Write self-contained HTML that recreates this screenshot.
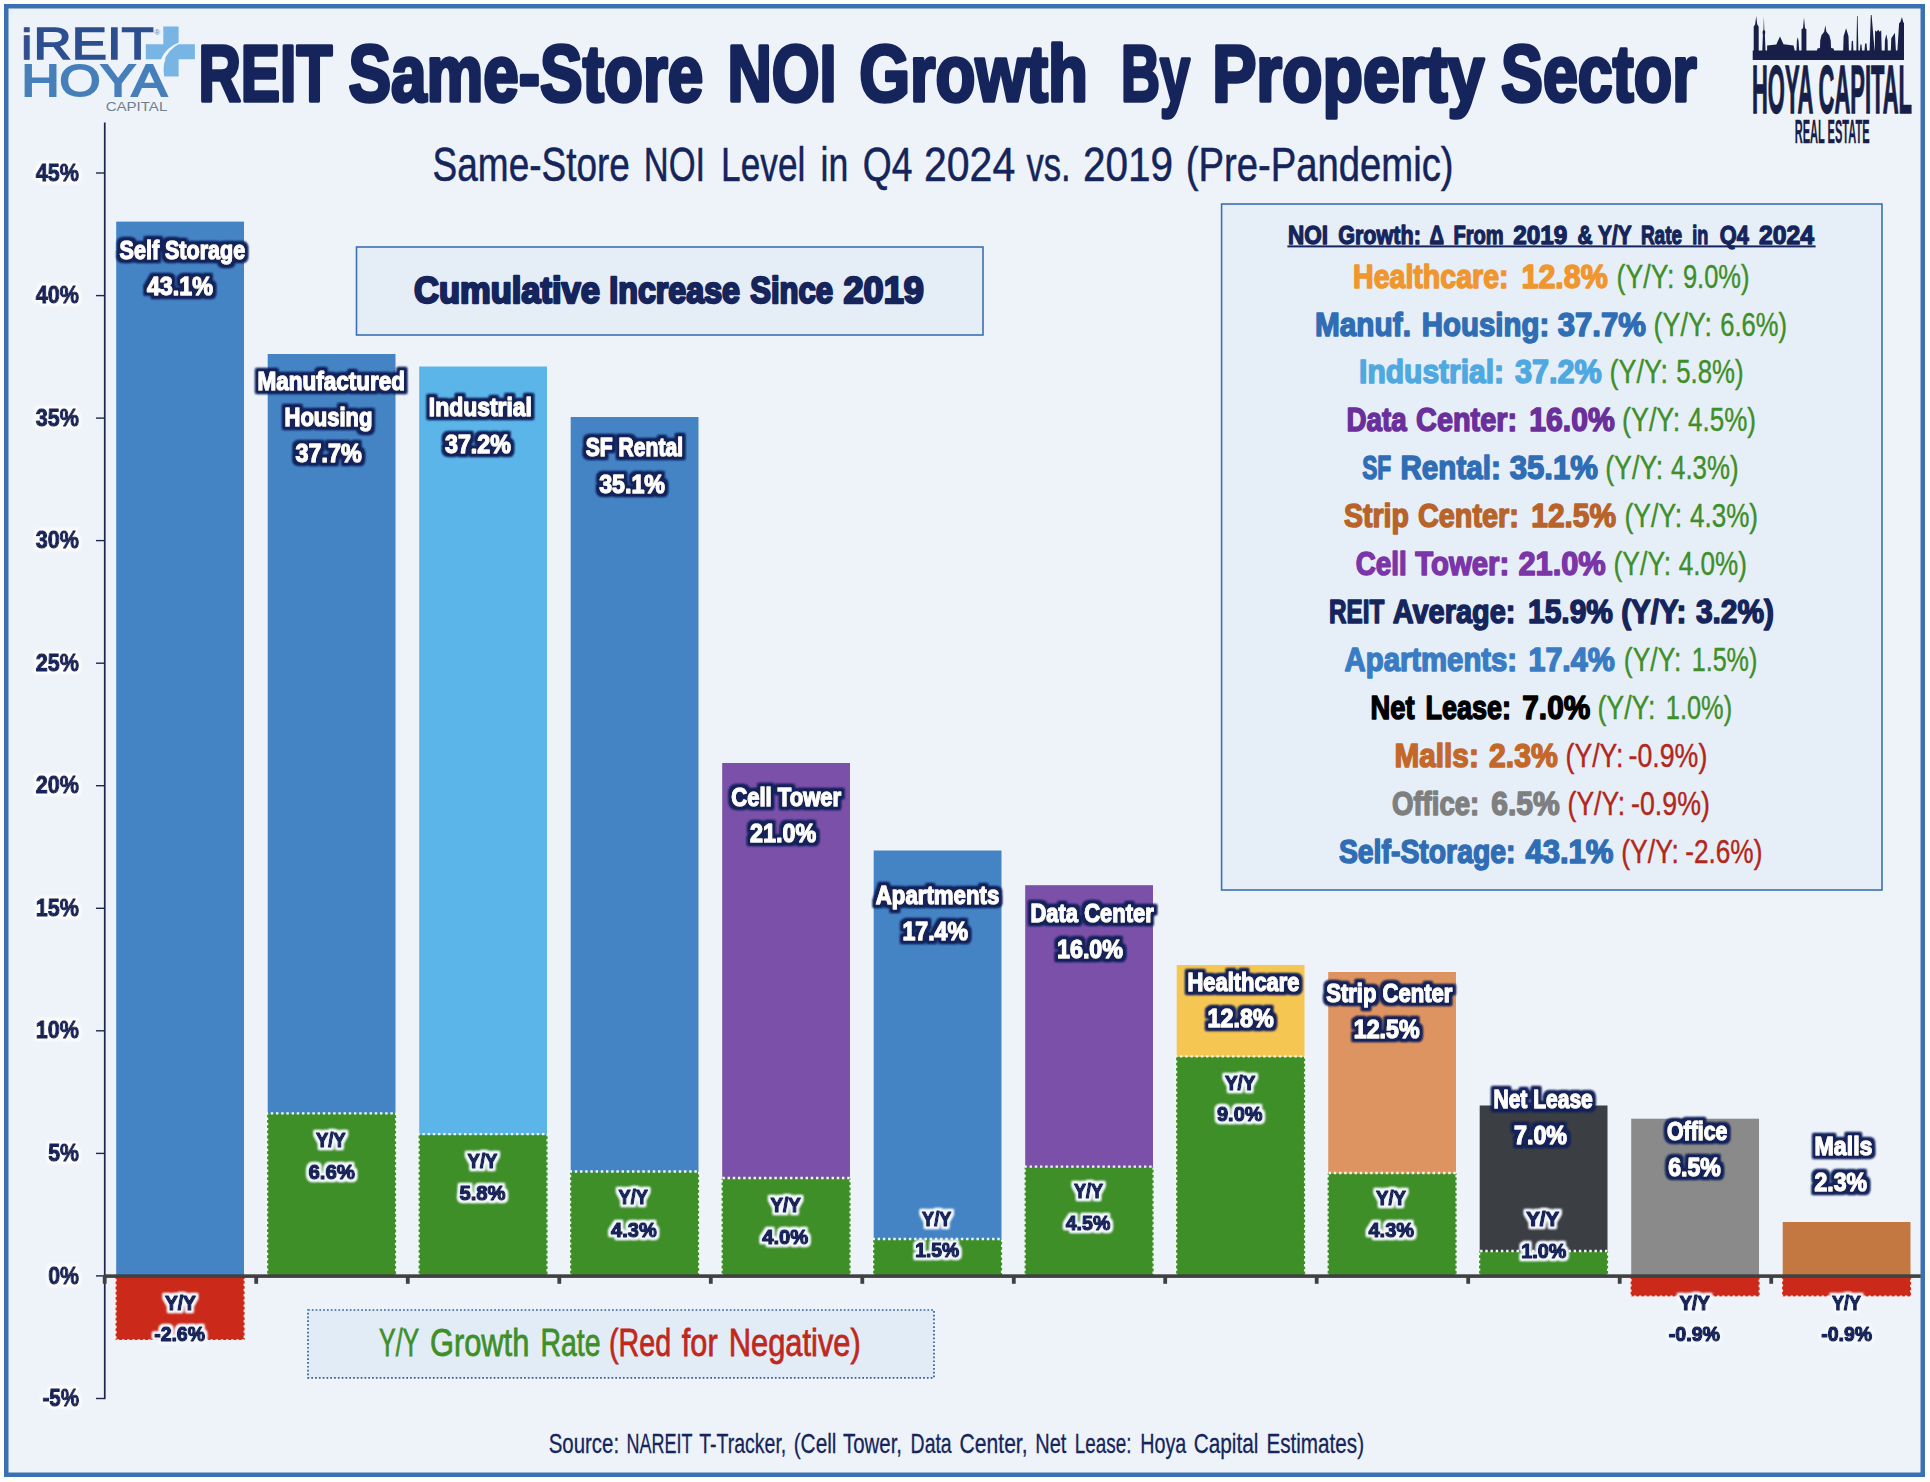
<!DOCTYPE html>
<html lang="en"><head><meta charset="utf-8"><title>REIT Same-Store NOI Growth By Property Sector</title>
<style>
html,body{margin:0;padding:0;background:#fffefa;}
body{width:1930px;height:1482px;overflow:hidden;}
svg{display:block;font-family:"Liberation Sans",sans-serif;}
</style></head><body>
<svg width="1930" height="1482" viewBox="0 0 1930 1482">
<defs>
<filter id="gn" x="-10%" y="-30%" width="120%" height="160%">
<feMorphology in="SourceAlpha" operator="dilate" radius="2.9" result="d"/>
<feGaussianBlur in="d" stdDeviation="1.3" result="b"/>
<feFlood flood-color="#13235a"/><feComposite in2="b" operator="in" result="g"/>
<feMerge><feMergeNode in="g"/><feMergeNode in="g"/><feMergeNode in="SourceGraphic"/></feMerge>
</filter>
<filter id="gw" x="-15%" y="-30%" width="130%" height="160%">
<feMorphology in="SourceAlpha" operator="dilate" radius="2.0" result="d"/>
<feGaussianBlur in="d" stdDeviation="0.8" result="b"/>
<feFlood flood-color="#f4f8ff"/><feComposite in2="b" operator="in" result="g"/>
<feMerge><feMergeNode in="g"/><feMergeNode in="g"/><feMergeNode in="SourceGraphic"/></feMerge>
</filter>
<filter id="gs" x="-15%" y="-30%" width="130%" height="160%">
<feMorphology in="SourceAlpha" operator="dilate" radius="1.5" result="d"/>
<feGaussianBlur in="d" stdDeviation="1.5" result="b"/>
<feFlood flood-color="#ffffff"/><feComposite in2="b" operator="in" result="g"/>
<feMerge><feMergeNode in="g"/><feMergeNode in="SourceGraphic"/></feMerge>
</filter>
</defs>

<rect x="0" y="0" width="1930" height="1482" fill="#fffefa"/>
<rect x="6.25" y="6.25" width="1916.5" height="1468.5" fill="#eef3f9" stroke="#3b70b2" stroke-width="4.5"/>
<rect x="116.2" y="221.6" width="127.8" height="1055.4" fill="#4484c4"/>
<rect x="115.6" y="1277" width="129.0" height="63.0" fill="#cb2a1b"/>
<path d="M115.6,1279 V1340.2 H244.6 V1279" fill="none" stroke="#fbeeea" stroke-width="2.0" stroke-dasharray="2.4 2.8"/>
<rect x="267.7" y="354.0" width="127.8" height="923.0" fill="#4484c4"/>
<rect x="267.1" y="1113.9" width="129.0" height="163.1" fill="#3f8f29"/>
<path d="M267.1,1276 V1113.3 H396.1 V1276" fill="none" stroke="#eefcef" stroke-width="2.3" stroke-dasharray="2.4 2.8"/>
<rect x="419.2" y="366.5" width="127.8" height="910.5" fill="#5bb5e8"/>
<rect x="418.6" y="1134.8" width="129.0" height="142.2" fill="#3f8f29"/>
<path d="M418.6,1276 V1134.2 H547.6 V1276" fill="none" stroke="#eefcef" stroke-width="2.3" stroke-dasharray="2.4 2.8"/>
<rect x="570.7" y="417.0" width="127.8" height="860.0" fill="#4484c4"/>
<rect x="570.1" y="1172.1" width="129.0" height="104.9" fill="#3f8f29"/>
<path d="M570.1,1276 V1171.5 H699.1 V1276" fill="none" stroke="#eefcef" stroke-width="2.3" stroke-dasharray="2.4 2.8"/>
<rect x="722.2" y="763.0" width="127.8" height="514.0" fill="#7b50a8"/>
<rect x="721.6" y="1178.6" width="129.0" height="98.4" fill="#3f8f29"/>
<path d="M721.6,1276 V1178.0 H850.6 V1276" fill="none" stroke="#eefcef" stroke-width="2.3" stroke-dasharray="2.4 2.8"/>
<rect x="873.7" y="850.5" width="127.8" height="426.5" fill="#4484c4"/>
<rect x="873.1" y="1239.6" width="129.0" height="37.4" fill="#3f8f29"/>
<path d="M873.1,1276 V1239.0 H1002.1 V1276" fill="none" stroke="#eefcef" stroke-width="2.3" stroke-dasharray="2.4 2.8"/>
<rect x="1025.2" y="885.2" width="127.8" height="391.8" fill="#7b50a8"/>
<rect x="1024.6" y="1167.2" width="129.0" height="109.8" fill="#3f8f29"/>
<path d="M1024.6,1276 V1166.6 H1153.6 V1276" fill="none" stroke="#eefcef" stroke-width="2.3" stroke-dasharray="2.4 2.8"/>
<rect x="1176.7" y="965.0" width="127.8" height="312.0" fill="#f6c653"/>
<rect x="1176.1" y="1056.9" width="129.0" height="220.1" fill="#3f8f29"/>
<path d="M1176.1,1276 V1056.3 H1305.1 V1276" fill="none" stroke="#eefcef" stroke-width="2.3" stroke-dasharray="2.4 2.8"/>
<rect x="1328.2" y="972.0" width="127.8" height="305.0" fill="#de9460"/>
<rect x="1327.6" y="1173.6" width="129.0" height="103.4" fill="#3f8f29"/>
<path d="M1327.6,1276 V1173.0 H1456.6 V1276" fill="none" stroke="#eefcef" stroke-width="2.3" stroke-dasharray="2.4 2.8"/>
<rect x="1479.7" y="1105.5" width="127.8" height="171.5" fill="#3b3e43"/>
<rect x="1479.1" y="1251.6" width="129.0" height="25.4" fill="#3f8f29"/>
<path d="M1479.1,1276 V1251.0 H1608.1 V1276" fill="none" stroke="#eefcef" stroke-width="2.3" stroke-dasharray="2.4 2.8"/>
<rect x="1631.2" y="1118.7" width="127.8" height="158.3" fill="#8a8a8a"/>
<rect x="1630.6" y="1277" width="129.0" height="19.4" fill="#cb2a1b"/>
<path d="M1630.6,1279 V1296.6 H1759.6 V1279" fill="none" stroke="#fbeeea" stroke-width="2.0" stroke-dasharray="2.4 2.8"/>
<rect x="1782.7" y="1222.0" width="127.8" height="55.0" fill="#c27840"/>
<rect x="1782.1" y="1277" width="129.0" height="19.4" fill="#cb2a1b"/>
<path d="M1782.1,1279 V1296.6 H1911.1 V1279" fill="none" stroke="#fbeeea" stroke-width="2.0" stroke-dasharray="2.4 2.8"/>
<rect x="103.9" y="122.5" width="1.7" height="1276.7" fill="#1a244e"/>
<rect x="96" y="172.3" width="8.5" height="1.4" fill="#1c2752"/>
<rect x="96" y="294.9" width="8.5" height="1.4" fill="#1c2752"/>
<rect x="96" y="417.4" width="8.5" height="1.4" fill="#1c2752"/>
<rect x="96" y="539.9" width="8.5" height="1.4" fill="#1c2752"/>
<rect x="96" y="662.5" width="8.5" height="1.4" fill="#1c2752"/>
<rect x="96" y="785.0" width="8.5" height="1.4" fill="#1c2752"/>
<rect x="96" y="907.6" width="8.5" height="1.4" fill="#1c2752"/>
<rect x="96" y="1030.1" width="8.5" height="1.4" fill="#1c2752"/>
<rect x="96" y="1152.7" width="8.5" height="1.4" fill="#1c2752"/>
<rect x="96" y="1275.2" width="8.5" height="1.4" fill="#1c2752"/>
<rect x="96" y="1397.8" width="8.5" height="1.4" fill="#1c2752"/>
<rect x="103.75" y="1274.3" width="1817" height="3.6" fill="#404040"/>
<rect x="102.8" y="1276" width="3.8" height="7.8" fill="#404040"/>
<rect x="254.3" y="1276" width="3.8" height="7.8" fill="#404040"/>
<rect x="405.9" y="1276" width="3.8" height="7.8" fill="#404040"/>
<rect x="557.4" y="1276" width="3.8" height="7.8" fill="#404040"/>
<rect x="708.9" y="1276" width="3.8" height="7.8" fill="#404040"/>
<rect x="860.4" y="1276" width="3.8" height="7.8" fill="#404040"/>
<rect x="1011.9" y="1276" width="3.8" height="7.8" fill="#404040"/>
<rect x="1163.3" y="1276" width="3.8" height="7.8" fill="#404040"/>
<rect x="1314.8" y="1276" width="3.8" height="7.8" fill="#404040"/>
<rect x="1466.3" y="1276" width="3.8" height="7.8" fill="#404040"/>
<rect x="1617.8" y="1276" width="3.8" height="7.8" fill="#404040"/>
<rect x="1769.3" y="1276" width="3.8" height="7.8" fill="#404040"/>
<g filter="url(#gs)" stroke="#15255c" stroke-width="1.3" stroke-linejoin="round">
<text x="79.0" y="180.6" font-size="24.5" font-weight="bold" fill="#15255c" text-anchor="end" textLength="43.2" lengthAdjust="spacingAndGlyphs">45%</text>
<text x="79.0" y="303.2" font-size="24.5" font-weight="bold" fill="#15255c" text-anchor="end" textLength="43.2" lengthAdjust="spacingAndGlyphs">40%</text>
<text x="79.0" y="425.7" font-size="24.5" font-weight="bold" fill="#15255c" text-anchor="end" textLength="43.2" lengthAdjust="spacingAndGlyphs">35%</text>
<text x="79.0" y="548.2" font-size="24.5" font-weight="bold" fill="#15255c" text-anchor="end" textLength="43.2" lengthAdjust="spacingAndGlyphs">30%</text>
<text x="79.0" y="670.8" font-size="24.5" font-weight="bold" fill="#15255c" text-anchor="end" textLength="43.2" lengthAdjust="spacingAndGlyphs">25%</text>
<text x="79.0" y="793.4" font-size="24.5" font-weight="bold" fill="#15255c" text-anchor="end" textLength="43.2" lengthAdjust="spacingAndGlyphs">20%</text>
<text x="79.0" y="915.9" font-size="24.5" font-weight="bold" fill="#15255c" text-anchor="end" textLength="43.2" lengthAdjust="spacingAndGlyphs">15%</text>
<text x="79.0" y="1038.4" font-size="24.5" font-weight="bold" fill="#15255c" text-anchor="end" textLength="43.2" lengthAdjust="spacingAndGlyphs">10%</text>
<text x="79.0" y="1161.0" font-size="24.5" font-weight="bold" fill="#15255c" text-anchor="end" textLength="30.8" lengthAdjust="spacingAndGlyphs">5%</text>
<text x="79.0" y="1283.5" font-size="24.5" font-weight="bold" fill="#15255c" text-anchor="end" textLength="30.8" lengthAdjust="spacingAndGlyphs">0%</text>
<text x="79.0" y="1406.1" font-size="24.5" font-weight="bold" fill="#15255c" text-anchor="end" textLength="36.6" lengthAdjust="spacingAndGlyphs">-5%</text>
</g>
<g filter="url(#gn)" stroke="#ffffff" stroke-width="1.0" stroke-linejoin="round">
<text x="119.6" y="258.8" font-size="26" font-weight="bold" fill="#ffffff" text-anchor="start" textLength="125.5" lengthAdjust="spacingAndGlyphs">Self Storage</text>
<text x="146.9" y="294.5" font-size="26" font-weight="bold" fill="#ffffff" text-anchor="start" textLength="66.1" lengthAdjust="spacingAndGlyphs">43.1%</text>
<text x="257.5" y="390.0" font-size="26" font-weight="bold" fill="#ffffff" text-anchor="start" textLength="147.5" lengthAdjust="spacingAndGlyphs">Manufactured</text>
<text x="284.5" y="426.2" font-size="26" font-weight="bold" fill="#ffffff" text-anchor="start" textLength="88.0" lengthAdjust="spacingAndGlyphs">Housing</text>
<text x="295.5" y="462.0" font-size="26" font-weight="bold" fill="#ffffff" text-anchor="start" textLength="66.2" lengthAdjust="spacingAndGlyphs">37.7%</text>
<text x="428.8" y="416.2" font-size="26" font-weight="bold" fill="#ffffff" text-anchor="start" textLength="103.2" lengthAdjust="spacingAndGlyphs">Industrial</text>
<text x="445.0" y="453.0" font-size="26" font-weight="bold" fill="#ffffff" text-anchor="start" textLength="65.8" lengthAdjust="spacingAndGlyphs">37.2%</text>
<text x="585.8" y="456.2" font-size="26" font-weight="bold" fill="#ffffff" text-anchor="start" textLength="97.2" lengthAdjust="spacingAndGlyphs">SF Rental</text>
<text x="599.2" y="492.5" font-size="26" font-weight="bold" fill="#ffffff" text-anchor="start" textLength="65.8" lengthAdjust="spacingAndGlyphs">35.1%</text>
<text x="731.2" y="806.2" font-size="26" font-weight="bold" fill="#ffffff" text-anchor="start" textLength="110.0" lengthAdjust="spacingAndGlyphs">Cell Tower</text>
<text x="750.0" y="842.0" font-size="26" font-weight="bold" fill="#ffffff" text-anchor="start" textLength="66.2" lengthAdjust="spacingAndGlyphs">21.0%</text>
<text x="875.8" y="903.8" font-size="26" font-weight="bold" fill="#ffffff" text-anchor="start" textLength="123.5" lengthAdjust="spacingAndGlyphs">Apartments</text>
<text x="902.5" y="940.0" font-size="26" font-weight="bold" fill="#ffffff" text-anchor="start" textLength="65.5" lengthAdjust="spacingAndGlyphs">17.4%</text>
<text x="1030.5" y="922.0" font-size="26" font-weight="bold" fill="#ffffff" text-anchor="start" textLength="123.2" lengthAdjust="spacingAndGlyphs">Data Center</text>
<text x="1057.0" y="957.5" font-size="26" font-weight="bold" fill="#ffffff" text-anchor="start" textLength="66.0" lengthAdjust="spacingAndGlyphs">16.0%</text>
<text x="1187.5" y="991.2" font-size="26" font-weight="bold" fill="#ffffff" text-anchor="start" textLength="112.0" lengthAdjust="spacingAndGlyphs">Healthcare</text>
<text x="1207.5" y="1027.0" font-size="26" font-weight="bold" fill="#ffffff" text-anchor="start" textLength="66.2" lengthAdjust="spacingAndGlyphs">12.8%</text>
<text x="1326.2" y="1002.0" font-size="26" font-weight="bold" fill="#ffffff" text-anchor="start" textLength="126.2" lengthAdjust="spacingAndGlyphs">Strip Center</text>
<text x="1353.8" y="1038.0" font-size="26" font-weight="bold" fill="#ffffff" text-anchor="start" textLength="65.8" lengthAdjust="spacingAndGlyphs">12.5%</text>
<text x="1493.5" y="1108.0" font-size="26" font-weight="bold" fill="#ffffff" text-anchor="start" textLength="99.3" lengthAdjust="spacingAndGlyphs">Net Lease</text>
<text x="1514.0" y="1143.8" font-size="26" font-weight="bold" fill="#ffffff" text-anchor="start" textLength="53.0" lengthAdjust="spacingAndGlyphs">7.0%</text>
<text x="1667.0" y="1140.0" font-size="26" font-weight="bold" fill="#ffffff" text-anchor="start" textLength="60.5" lengthAdjust="spacingAndGlyphs">Office</text>
<text x="1668.2" y="1175.8" font-size="26" font-weight="bold" fill="#ffffff" text-anchor="start" textLength="52.5" lengthAdjust="spacingAndGlyphs">6.5%</text>
<text x="1814.5" y="1154.5" font-size="26" font-weight="bold" fill="#ffffff" text-anchor="start" textLength="58.0" lengthAdjust="spacingAndGlyphs">Malls</text>
<text x="1814.5" y="1190.5" font-size="26" font-weight="bold" fill="#ffffff" text-anchor="start" textLength="52.5" lengthAdjust="spacingAndGlyphs">2.3%</text>
</g>
<g filter="url(#gw)" stroke="#15255c" stroke-width="1.5" stroke-linejoin="round">
<text x="165.0" y="1310.4" font-size="21" font-weight="bold" fill="#15255c" text-anchor="start" textLength="30.9" lengthAdjust="spacingAndGlyphs">Y/Y</text>
<text x="154.2" y="1341.2" font-size="21" font-weight="bold" fill="#15255c" text-anchor="start" textLength="50.7" lengthAdjust="spacingAndGlyphs">-2.6%</text>
<text x="315.9" y="1146.7" font-size="21" font-weight="bold" fill="#15255c" text-anchor="start" textLength="29.8" lengthAdjust="spacingAndGlyphs">Y/Y</text>
<text x="308.4" y="1179.0" font-size="21" font-weight="bold" fill="#15255c" text-anchor="start" textLength="46.5" lengthAdjust="spacingAndGlyphs">6.6%</text>
<text x="467.6" y="1167.6" font-size="21" font-weight="bold" fill="#15255c" text-anchor="start" textLength="29.9" lengthAdjust="spacingAndGlyphs">Y/Y</text>
<text x="459.4" y="1199.9" font-size="21" font-weight="bold" fill="#15255c" text-anchor="start" textLength="46.3" lengthAdjust="spacingAndGlyphs">5.8%</text>
<text x="618.6" y="1204.4" font-size="21" font-weight="bold" fill="#15255c" text-anchor="start" textLength="29.4" lengthAdjust="spacingAndGlyphs">Y/Y</text>
<text x="611.1" y="1237.2" font-size="21" font-weight="bold" fill="#15255c" text-anchor="start" textLength="45.6" lengthAdjust="spacingAndGlyphs">4.3%</text>
<text x="770.4" y="1211.6" font-size="21" font-weight="bold" fill="#15255c" text-anchor="start" textLength="30.3" lengthAdjust="spacingAndGlyphs">Y/Y</text>
<text x="762.2" y="1243.9" font-size="21" font-weight="bold" fill="#15255c" text-anchor="start" textLength="46.0" lengthAdjust="spacingAndGlyphs">4.0%</text>
<text x="922.1" y="1225.8" font-size="21" font-weight="bold" fill="#15255c" text-anchor="start" textLength="29.1" lengthAdjust="spacingAndGlyphs">Y/Y</text>
<text x="915.2" y="1257.4" font-size="21" font-weight="bold" fill="#15255c" text-anchor="start" textLength="44.0" lengthAdjust="spacingAndGlyphs">1.5%</text>
<text x="1073.9" y="1197.9" font-size="21" font-weight="bold" fill="#15255c" text-anchor="start" textLength="29.1" lengthAdjust="spacingAndGlyphs">Y/Y</text>
<text x="1065.7" y="1230.0" font-size="21" font-weight="bold" fill="#15255c" text-anchor="start" textLength="44.7" lengthAdjust="spacingAndGlyphs">4.5%</text>
<text x="1225.0" y="1090.0" font-size="21" font-weight="bold" fill="#15255c" text-anchor="start" textLength="30.5" lengthAdjust="spacingAndGlyphs">Y/Y</text>
<text x="1217.0" y="1121.2" font-size="21" font-weight="bold" fill="#15255c" text-anchor="start" textLength="45.5" lengthAdjust="spacingAndGlyphs">9.0%</text>
<text x="1376.0" y="1205.0" font-size="21" font-weight="bold" fill="#15255c" text-anchor="start" textLength="30.0" lengthAdjust="spacingAndGlyphs">Y/Y</text>
<text x="1368.5" y="1237.0" font-size="21" font-weight="bold" fill="#15255c" text-anchor="start" textLength="45.5" lengthAdjust="spacingAndGlyphs">4.3%</text>
<text x="1526.2" y="1226.0" font-size="21" font-weight="bold" fill="#15255c" text-anchor="start" textLength="33.0" lengthAdjust="spacingAndGlyphs">Y/Y</text>
<text x="1521.2" y="1257.5" font-size="21" font-weight="bold" fill="#15255c" text-anchor="start" textLength="45.0" lengthAdjust="spacingAndGlyphs">1.0%</text>
<text x="1679.5" y="1310.0" font-size="21" font-weight="bold" fill="#15255c" text-anchor="start" textLength="30.5" lengthAdjust="spacingAndGlyphs">Y/Y</text>
<text x="1668.8" y="1341.2" font-size="21" font-weight="bold" fill="#15255c" text-anchor="start" textLength="51.2" lengthAdjust="spacingAndGlyphs">-0.9%</text>
<text x="1832.0" y="1310.0" font-size="21" font-weight="bold" fill="#15255c" text-anchor="start" textLength="28.8" lengthAdjust="spacingAndGlyphs">Y/Y</text>
<text x="1821.2" y="1341.2" font-size="21" font-weight="bold" fill="#15255c" text-anchor="start" textLength="50.8" lengthAdjust="spacingAndGlyphs">-0.9%</text>
</g>
<text y="100.7" font-size="79.5" font-weight="bold" fill="#15255c" stroke="#15255c" stroke-width="3.6" stroke-linejoin="round"><tspan x="198.4" textLength="133.9" lengthAdjust="spacingAndGlyphs">REIT</tspan> <tspan x="348.5" textLength="354.8" lengthAdjust="spacingAndGlyphs">Same-Store</tspan> <tspan x="727.5" textLength="109.1" lengthAdjust="spacingAndGlyphs">NOI</tspan> <tspan x="859.2" textLength="228.8" lengthAdjust="spacingAndGlyphs">Growth</tspan> <tspan x="1121.1" textLength="69.0" lengthAdjust="spacingAndGlyphs">By</tspan> <tspan x="1212.2" textLength="272.2" lengthAdjust="spacingAndGlyphs">Property</tspan> <tspan x="1501.0" textLength="195.6" lengthAdjust="spacingAndGlyphs">Sector</tspan></text>
<text y="180.5" font-size="47.5" font-weight="normal" fill="#15255c" stroke="#15255c" stroke-width="0.5"><tspan x="432.6" textLength="197.3" lengthAdjust="spacingAndGlyphs">Same-Store</tspan> <tspan x="643.8" textLength="61.4" lengthAdjust="spacingAndGlyphs">NOI</tspan> <tspan x="721.1" textLength="84.2" lengthAdjust="spacingAndGlyphs">Level</tspan> <tspan x="820.6" textLength="27.8" lengthAdjust="spacingAndGlyphs">in</tspan> <tspan x="862.7" textLength="49.7" lengthAdjust="spacingAndGlyphs">Q4</tspan> <tspan x="924.0" textLength="91.2" lengthAdjust="spacingAndGlyphs">2024</tspan> <tspan x="1026.4" textLength="44.2" lengthAdjust="spacingAndGlyphs">vs.</tspan> <tspan x="1082.9" textLength="90.2" lengthAdjust="spacingAndGlyphs">2019</tspan> <tspan x="1185.7" textLength="267.9" lengthAdjust="spacingAndGlyphs">(Pre-Pandemic)</tspan></text>
<rect x="356.5" y="247" width="626.5" height="88" fill="#e5edf7" stroke="#3b70b2" stroke-width="1.6"/>
<text y="302.6" font-size="37" font-weight="bold" fill="#15255c" stroke="#15255c" stroke-width="2.4" stroke-linejoin="round"><tspan x="414.0" textLength="186.0" lengthAdjust="spacingAndGlyphs">Cumulative</tspan> <tspan x="609.3" textLength="130.7" lengthAdjust="spacingAndGlyphs">Increase</tspan> <tspan x="750.3" textLength="82.8" lengthAdjust="spacingAndGlyphs">Since</tspan> <tspan x="843.5" textLength="80.3" lengthAdjust="spacingAndGlyphs">2019</tspan></text>
<rect x="308" y="1310" width="626" height="67.8" fill="#e2ecf7" stroke="#335f9a" stroke-width="1.7" stroke-dasharray="1.7 2.1"/>
<text y="1356.2" font-size="39" font-weight="normal" fill="#3f8f29" stroke-width="0.8"><tspan x="379.0" textLength="39.8" lengthAdjust="spacingAndGlyphs" fill="#3f8f29" stroke="#3f8f29">Y/Y</tspan> <tspan x="430.0" textLength="99.3" lengthAdjust="spacingAndGlyphs" fill="#3f8f29" stroke="#3f8f29">Growth</tspan> <tspan x="540.5" textLength="60.1" lengthAdjust="spacingAndGlyphs" fill="#3f8f29" stroke="#3f8f29">Rate</tspan> <tspan x="609.0" textLength="62.1" lengthAdjust="spacingAndGlyphs" fill="#c0281b" stroke="#c0281b">(Red</tspan> <tspan x="681.8" textLength="35.8" lengthAdjust="spacingAndGlyphs" fill="#c0281b" stroke="#c0281b">for</tspan> <tspan x="728.8" textLength="132.0" lengthAdjust="spacingAndGlyphs" fill="#c0281b" stroke="#c0281b">Negative)</tspan></text>
<text y="1452.8" font-size="27.8" font-weight="normal" fill="#15255c" stroke="#15255c" stroke-width="0.3"><tspan x="548.7" textLength="70.4" lengthAdjust="spacingAndGlyphs">Source:</tspan> <tspan x="626.6" textLength="65.6" lengthAdjust="spacingAndGlyphs">NAREIT</tspan> <tspan x="699.2" textLength="87.1" lengthAdjust="spacingAndGlyphs">T-Tracker,</tspan> <tspan x="793.7" textLength="42.8" lengthAdjust="spacingAndGlyphs">(Cell</tspan> <tspan x="843.0" textLength="59.0" lengthAdjust="spacingAndGlyphs">Tower,</tspan> <tspan x="910.6" textLength="41.1" lengthAdjust="spacingAndGlyphs">Data</tspan> <tspan x="959.6" textLength="68.0" lengthAdjust="spacingAndGlyphs">Center,</tspan> <tspan x="1035.3" textLength="31.1" lengthAdjust="spacingAndGlyphs">Net</tspan> <tspan x="1074.8" textLength="56.7" lengthAdjust="spacingAndGlyphs">Lease:</tspan> <tspan x="1140.2" textLength="46.1" lengthAdjust="spacingAndGlyphs">Hoya</tspan> <tspan x="1193.7" textLength="64.7" lengthAdjust="spacingAndGlyphs">Capital</tspan> <tspan x="1266.4" textLength="97.7" lengthAdjust="spacingAndGlyphs">Estimates)</tspan></text>
<rect x="1221.6" y="204" width="660.4" height="686" fill="#e6eef7" stroke="#3b70b2" stroke-width="1.6"/>
<text y="244.0" font-size="26.3" font-weight="bold" fill="#15255c" stroke="#15255c" stroke-width="1.3" stroke-linejoin="round"><tspan x="1288.0" textLength="40.0" lengthAdjust="spacingAndGlyphs">NOI</tspan> <tspan x="1338.2" textLength="82.7" lengthAdjust="spacingAndGlyphs">Growth:</tspan> <tspan x="1429.6" textLength="14.5" lengthAdjust="spacingAndGlyphs">Δ</tspan> <tspan x="1453.4" textLength="50.2" lengthAdjust="spacingAndGlyphs">From</tspan> <tspan x="1513.2" textLength="54.2" lengthAdjust="spacingAndGlyphs">2019</tspan> <tspan x="1577.6" textLength="53.7" lengthAdjust="spacingAndGlyphs">&amp; Y/Y</tspan> <tspan x="1640.9" textLength="41.2" lengthAdjust="spacingAndGlyphs">Rate</tspan> <tspan x="1692.2" textLength="16.0" lengthAdjust="spacingAndGlyphs">in</tspan> <tspan x="1719.8" textLength="29.0" lengthAdjust="spacingAndGlyphs">Q4</tspan> <tspan x="1759.0" textLength="55.1" lengthAdjust="spacingAndGlyphs">2024</tspan></text>
<rect x="1287.4" y="245.4" width="528.2" height="2" fill="#15255c"/>
<text y="287.6" font-size="33.2" font-weight="bold" fill="#f0962e" stroke="#f0962e" stroke-width="1.5" stroke-linejoin="round"><tspan x="1353.1" textLength="155.4" lengthAdjust="spacingAndGlyphs">Healthcare:</tspan> <tspan x="1521.5" textLength="86.3" lengthAdjust="spacingAndGlyphs">12.8%</tspan> <tspan x="1616.6" textLength="57.8" lengthAdjust="spacingAndGlyphs" font-weight="normal" fill="#3f8f29" stroke="#3f8f29" stroke-width="0.4">(Y/Y:</tspan> <tspan x="1682.9" textLength="66.6" lengthAdjust="spacingAndGlyphs" font-weight="normal" fill="#3f8f29" stroke="#3f8f29" stroke-width="0.4">9.0%)</tspan></text>
<text y="335.5" font-size="33.2" font-weight="bold" fill="#2f6db5" stroke="#2f6db5" stroke-width="1.5" stroke-linejoin="round"><tspan x="1315.0" textLength="95.9" lengthAdjust="spacingAndGlyphs">Manuf.</tspan> <tspan x="1421.8" textLength="127.4" lengthAdjust="spacingAndGlyphs">Housing:</tspan> <tspan x="1557.8" textLength="88.1" lengthAdjust="spacingAndGlyphs">37.7%</tspan> <tspan x="1653.6" textLength="58.3" lengthAdjust="spacingAndGlyphs" font-weight="normal" fill="#3f8f29" stroke="#3f8f29" stroke-width="0.4">(Y/Y:</tspan> <tspan x="1720.2" textLength="66.8" lengthAdjust="spacingAndGlyphs" font-weight="normal" fill="#3f8f29" stroke="#3f8f29" stroke-width="0.4">6.6%)</tspan></text>
<text y="383.4" font-size="33.2" font-weight="bold" fill="#4fa8e0" stroke="#4fa8e0" stroke-width="1.5" stroke-linejoin="round"><tspan x="1359.1" textLength="145.0" lengthAdjust="spacingAndGlyphs">Industrial:</tspan> <tspan x="1515.0" textLength="86.8" lengthAdjust="spacingAndGlyphs">37.2%</tspan> <tspan x="1609.6" textLength="58.3" lengthAdjust="spacingAndGlyphs" font-weight="normal" fill="#3f8f29" stroke="#3f8f29" stroke-width="0.4">(Y/Y:</tspan> <tspan x="1676.2" textLength="67.3" lengthAdjust="spacingAndGlyphs" font-weight="normal" fill="#3f8f29" stroke="#3f8f29" stroke-width="0.4">5.8%)</tspan></text>
<text y="431.4" font-size="33.2" font-weight="bold" fill="#6a2f9a" stroke="#6a2f9a" stroke-width="1.5" stroke-linejoin="round"><tspan x="1346.6" textLength="60.1" lengthAdjust="spacingAndGlyphs">Data</tspan> <tspan x="1416.1" textLength="101.0" lengthAdjust="spacingAndGlyphs">Center:</tspan> <tspan x="1529.3" textLength="85.5" lengthAdjust="spacingAndGlyphs">16.0%</tspan> <tspan x="1622.0" textLength="58.3" lengthAdjust="spacingAndGlyphs" font-weight="normal" fill="#3f8f29" stroke="#3f8f29" stroke-width="0.4">(Y/Y:</tspan> <tspan x="1688.1" textLength="67.9" lengthAdjust="spacingAndGlyphs" font-weight="normal" fill="#3f8f29" stroke="#3f8f29" stroke-width="0.4">4.5%)</tspan></text>
<text y="479.3" font-size="33.2" font-weight="bold" fill="#2f6db5" stroke="#2f6db5" stroke-width="1.5" stroke-linejoin="round"><tspan x="1362.2" textLength="29.0" lengthAdjust="spacingAndGlyphs">SF</tspan> <tspan x="1400.5" textLength="100.3" lengthAdjust="spacingAndGlyphs">Rental:</tspan> <tspan x="1509.8" textLength="88.1" lengthAdjust="spacingAndGlyphs">35.1%</tspan> <tspan x="1605.2" textLength="58.0" lengthAdjust="spacingAndGlyphs" font-weight="normal" fill="#3f8f29" stroke="#3f8f29" stroke-width="0.4">(Y/Y:</tspan> <tspan x="1671.0" textLength="67.6" lengthAdjust="spacingAndGlyphs" font-weight="normal" fill="#3f8f29" stroke="#3f8f29" stroke-width="0.4">4.3%)</tspan></text>
<text y="527.2" font-size="33.2" font-weight="bold" fill="#b8632a" stroke="#b8632a" stroke-width="1.5" stroke-linejoin="round"><tspan x="1344.0" textLength="64.8" lengthAdjust="spacingAndGlyphs">Strip</tspan> <tspan x="1417.9" textLength="101.0" lengthAdjust="spacingAndGlyphs">Center:</tspan> <tspan x="1531.3" textLength="84.8" lengthAdjust="spacingAndGlyphs">12.5%</tspan> <tspan x="1624.4" textLength="57.7" lengthAdjust="spacingAndGlyphs" font-weight="normal" fill="#3f8f29" stroke="#3f8f29" stroke-width="0.4">(Y/Y:</tspan> <tspan x="1689.9" textLength="68.1" lengthAdjust="spacingAndGlyphs" font-weight="normal" fill="#3f8f29" stroke="#3f8f29" stroke-width="0.4">4.3%)</tspan></text>
<text y="575.1" font-size="33.2" font-weight="bold" fill="#7b35a8" stroke="#7b35a8" stroke-width="1.5" stroke-linejoin="round"><tspan x="1355.7" textLength="51.0" lengthAdjust="spacingAndGlyphs">Cell</tspan> <tspan x="1415.3" textLength="94.0" lengthAdjust="spacingAndGlyphs">Tower:</tspan> <tspan x="1518.4" textLength="87.3" lengthAdjust="spacingAndGlyphs">21.0%</tspan> <tspan x="1613.5" textLength="57.5" lengthAdjust="spacingAndGlyphs" font-weight="normal" fill="#3f8f29" stroke="#3f8f29" stroke-width="0.4">(Y/Y:</tspan> <tspan x="1678.8" textLength="68.1" lengthAdjust="spacingAndGlyphs" font-weight="normal" fill="#3f8f29" stroke="#3f8f29" stroke-width="0.4">4.0%)</tspan></text>
<text y="623.0" font-size="33.2" font-weight="bold" fill="#15255c" stroke="#15255c" stroke-width="1.5" stroke-linejoin="round"><tspan x="1329.0" textLength="55.2" lengthAdjust="spacingAndGlyphs">REIT</tspan> <tspan x="1392.7" textLength="122.8" lengthAdjust="spacingAndGlyphs">Average:</tspan> <tspan x="1528.0" textLength="85.0" lengthAdjust="spacingAndGlyphs">15.9%</tspan> <tspan x="1621.2" textLength="65.3" lengthAdjust="spacingAndGlyphs">(Y/Y:</tspan> <tspan x="1695.9" textLength="78.2" lengthAdjust="spacingAndGlyphs">3.2%)</tspan></text>
<text y="671.0" font-size="33.2" font-weight="bold" fill="#3a7cc4" stroke="#3a7cc4" stroke-width="1.5" stroke-linejoin="round"><tspan x="1344.6" textLength="172.5" lengthAdjust="spacingAndGlyphs">Apartments:</tspan> <tspan x="1528.5" textLength="86.3" lengthAdjust="spacingAndGlyphs">17.4%</tspan> <tspan x="1623.8" textLength="57.5" lengthAdjust="spacingAndGlyphs" font-weight="normal" fill="#3f8f29" stroke="#3f8f29" stroke-width="0.4">(Y/Y:</tspan> <tspan x="1691.7" textLength="65.6" lengthAdjust="spacingAndGlyphs" font-weight="normal" fill="#3f8f29" stroke="#3f8f29" stroke-width="0.4">1.5%)</tspan></text>
<text y="718.9" font-size="33.2" font-weight="bold" fill="#000000" stroke="#000000" stroke-width="1.5" stroke-linejoin="round"><tspan x="1370.5" textLength="44.0" lengthAdjust="spacingAndGlyphs">Net</tspan> <tspan x="1425.6" textLength="85.5" lengthAdjust="spacingAndGlyphs">Lease:</tspan> <tspan x="1522.3" textLength="67.9" lengthAdjust="spacingAndGlyphs">7.0%</tspan> <tspan x="1597.4" textLength="58.0" lengthAdjust="spacingAndGlyphs" font-weight="normal" fill="#3f8f29" stroke="#3f8f29" stroke-width="0.4">(Y/Y:</tspan> <tspan x="1665.8" textLength="66.3" lengthAdjust="spacingAndGlyphs" font-weight="normal" fill="#3f8f29" stroke="#3f8f29" stroke-width="0.4">1.0%)</tspan></text>
<text y="766.8" font-size="33.2" font-weight="bold" fill="#c4682a" stroke="#c4682a" stroke-width="1.5" stroke-linejoin="round"><tspan x="1394.6" textLength="84.2" lengthAdjust="spacingAndGlyphs">Malls:</tspan> <tspan x="1489.1" textLength="68.7" lengthAdjust="spacingAndGlyphs">2.3%</tspan> <tspan x="1565.5" textLength="57.8" lengthAdjust="spacingAndGlyphs" font-weight="normal" fill="#b3261a" stroke="#b3261a" stroke-width="0.4">(Y/Y:</tspan> <tspan x="1628.5" textLength="78.8" lengthAdjust="spacingAndGlyphs" font-weight="normal" fill="#b3261a" stroke="#b3261a" stroke-width="0.4">-0.9%)</tspan></text>
<text y="814.7" font-size="33.2" font-weight="bold" fill="#7f7f7f" stroke="#7f7f7f" stroke-width="1.5" stroke-linejoin="round"><tspan x="1392.0" textLength="87.3" lengthAdjust="spacingAndGlyphs">Office:</tspan> <tspan x="1491.2" textLength="68.4" lengthAdjust="spacingAndGlyphs">6.5%</tspan> <tspan x="1567.6" textLength="57.5" lengthAdjust="spacingAndGlyphs" font-weight="normal" fill="#b3261a" stroke="#b3261a" stroke-width="0.4">(Y/Y:</tspan> <tspan x="1631.1" textLength="78.7" lengthAdjust="spacingAndGlyphs" font-weight="normal" fill="#b3261a" stroke="#b3261a" stroke-width="0.4">-0.9%)</tspan></text>
<text y="862.6" font-size="33.2" font-weight="bold" fill="#2f6db5" stroke="#2f6db5" stroke-width="1.5" stroke-linejoin="round"><tspan x="1338.9" textLength="176.6" lengthAdjust="spacingAndGlyphs">Self-Storage:</tspan> <tspan x="1525.4" textLength="88.1" lengthAdjust="spacingAndGlyphs">43.1%</tspan> <tspan x="1621.2" textLength="57.6" lengthAdjust="spacingAndGlyphs" font-weight="normal" fill="#b3261a" stroke="#b3261a" stroke-width="0.4">(Y/Y:</tspan> <tspan x="1685.2" textLength="77.2" lengthAdjust="spacingAndGlyphs" font-weight="normal" fill="#b3261a" stroke="#b3261a" stroke-width="0.4">-2.6%)</tspan></text>
<text y="59.0" font-size="44.4" fill="#2d4f8f" stroke="#2d4f8f" stroke-width="1.5"><tspan x="21.6" font-size="42.4" textLength="10.4" lengthAdjust="spacingAndGlyphs">i</tspan><tspan x="33.6" textLength="120.2" lengthAdjust="spacingAndGlyphs">REIT</tspan></text>
<text x="21.4" y="96.0" font-size="44.2" font-weight="normal" fill="#467fba" text-anchor="start" textLength="145.4" lengthAdjust="spacingAndGlyphs" stroke="#467fba" stroke-width="2.0">HOYA</text>
<text x="105.7" y="110.7" font-size="12.2" font-weight="normal" fill="#6f7f92" text-anchor="start" textLength="61.6" lengthAdjust="spacingAndGlyphs">CAPITAL</text>
<text x="154.3" y="34.5" font-size="8" font-weight="normal" fill="#5b7fae" text-anchor="start">®</text>
<g>
<path d="M163.3,26.6 H178.6 V44.3 H194.9 V59.2 H178.6 V76.4 H164.2 Q162.6,66 165.5,59.2 H145.8 V44.3 H163.3 Z" fill="#79b5e4"/>
<path d="M181.5,42.0 Q166.5,49.5 163.0,63 Q161.8,68.5 162.6,74 L161.2,74 Q159.6,66 161.0,60.5 Q165.0,47.5 181.5,42.0 Z" fill="#f3f8fd" stroke="#f3f8fd" stroke-width="0.8"/>
</g>
<path d="M1752.7,60.1 L1752.7,50.5 L1753.7,50.5 L1753.7,26.7 L1755.2,24.2 L1756.2,16.1 L1757.2,24.2 L1758.7,26.7 L1758.7,50.5 L1762.3,50.5 L1762.9,35.3 L1762.5,31.8 L1763.5,29.7 L1763.9,16.1 L1764.3,29.7 L1765.3,31.8 L1764.9,35.3 L1765.5,50.5 L1767.1,50.5 L1767.1,45.4 L1776.4,44.4 L1777.4,41.9 L1780.0,36.5 L1782.5,41.9 L1783.5,44.2 L1793.6,45.4 L1794.7,50.5 L1796.5,50.5 L1796.9,40.4 L1797.7,37.3 L1798.5,40.4 L1799.2,50.5 L1801.5,50.5 L1801.5,29.2 L1803.0,28.2 L1804.0,17.6 L1805.0,28.2 L1806.4,29.2 L1806.4,50.5 L1816.9,50.5 L1817.4,48.5 L1820.0,48.0 L1820.2,40.4 L1821.5,35.3 L1824.2,31.8 L1825.3,25.2 L1826.4,31.8 L1829.3,35.3 L1830.7,40.4 L1831.1,48.0 L1833.6,48.5 L1834.1,50.5 L1843.2,50.5 L1843.6,36.3 L1846.1,28.2 L1848.5,36.3 L1848.9,50.5 L1851.3,50.5 L1851.7,41.4 L1853.0,40.4 L1853.4,50.5 L1856.4,50.5 L1857.0,16.1 L1857.6,16.1 L1858.4,50.5 L1859.9,50.5 L1860.4,44.4 L1861.5,44.4 L1862.0,50.5 L1864.5,50.5 L1865.1,43.4 L1866.5,43.4 L1867.1,50.5 L1869.6,50.5 L1870.8,15.1 L1871.6,15.1 L1874.6,50.5 L1874.8,50.5 L1875.1,30.2 L1876.6,31.8 L1878.2,29.7 L1879.7,31.8 L1881.2,30.2 L1881.7,50.5 L1884.7,50.5 L1884.9,40.4 L1886.3,34.3 L1887.6,40.4 L1887.8,50.5 L1890.8,50.5 L1891.3,38.3 L1894.9,32.8 L1895.9,50.5 L1897.4,50.5 L1899.1,23.2 L1900.4,22.1 L1901.9,17.1 L1903.2,22.1 L1904.0,23.2 L1904.0,60.1 Z" fill="#171f48"/>
<g transform="translate(1752.0,113.0) scale(1,1.711)"><text x="0" y="0" font-size="40.0" font-weight="bold" fill="#171f48" textLength="160.0" lengthAdjust="spacingAndGlyphs" stroke="#171f48" stroke-width="0.8">HOYA CAPITAL</text></g>
<g transform="translate(1794.7,143.1) scale(1,0.848)"><text x="0" y="0" font-size="40.0" font-weight="bold" fill="#171f48" textLength="74.8" lengthAdjust="spacingAndGlyphs" stroke="#171f48" stroke-width="0.4">REAL ESTATE</text></g>
</svg></body></html>
